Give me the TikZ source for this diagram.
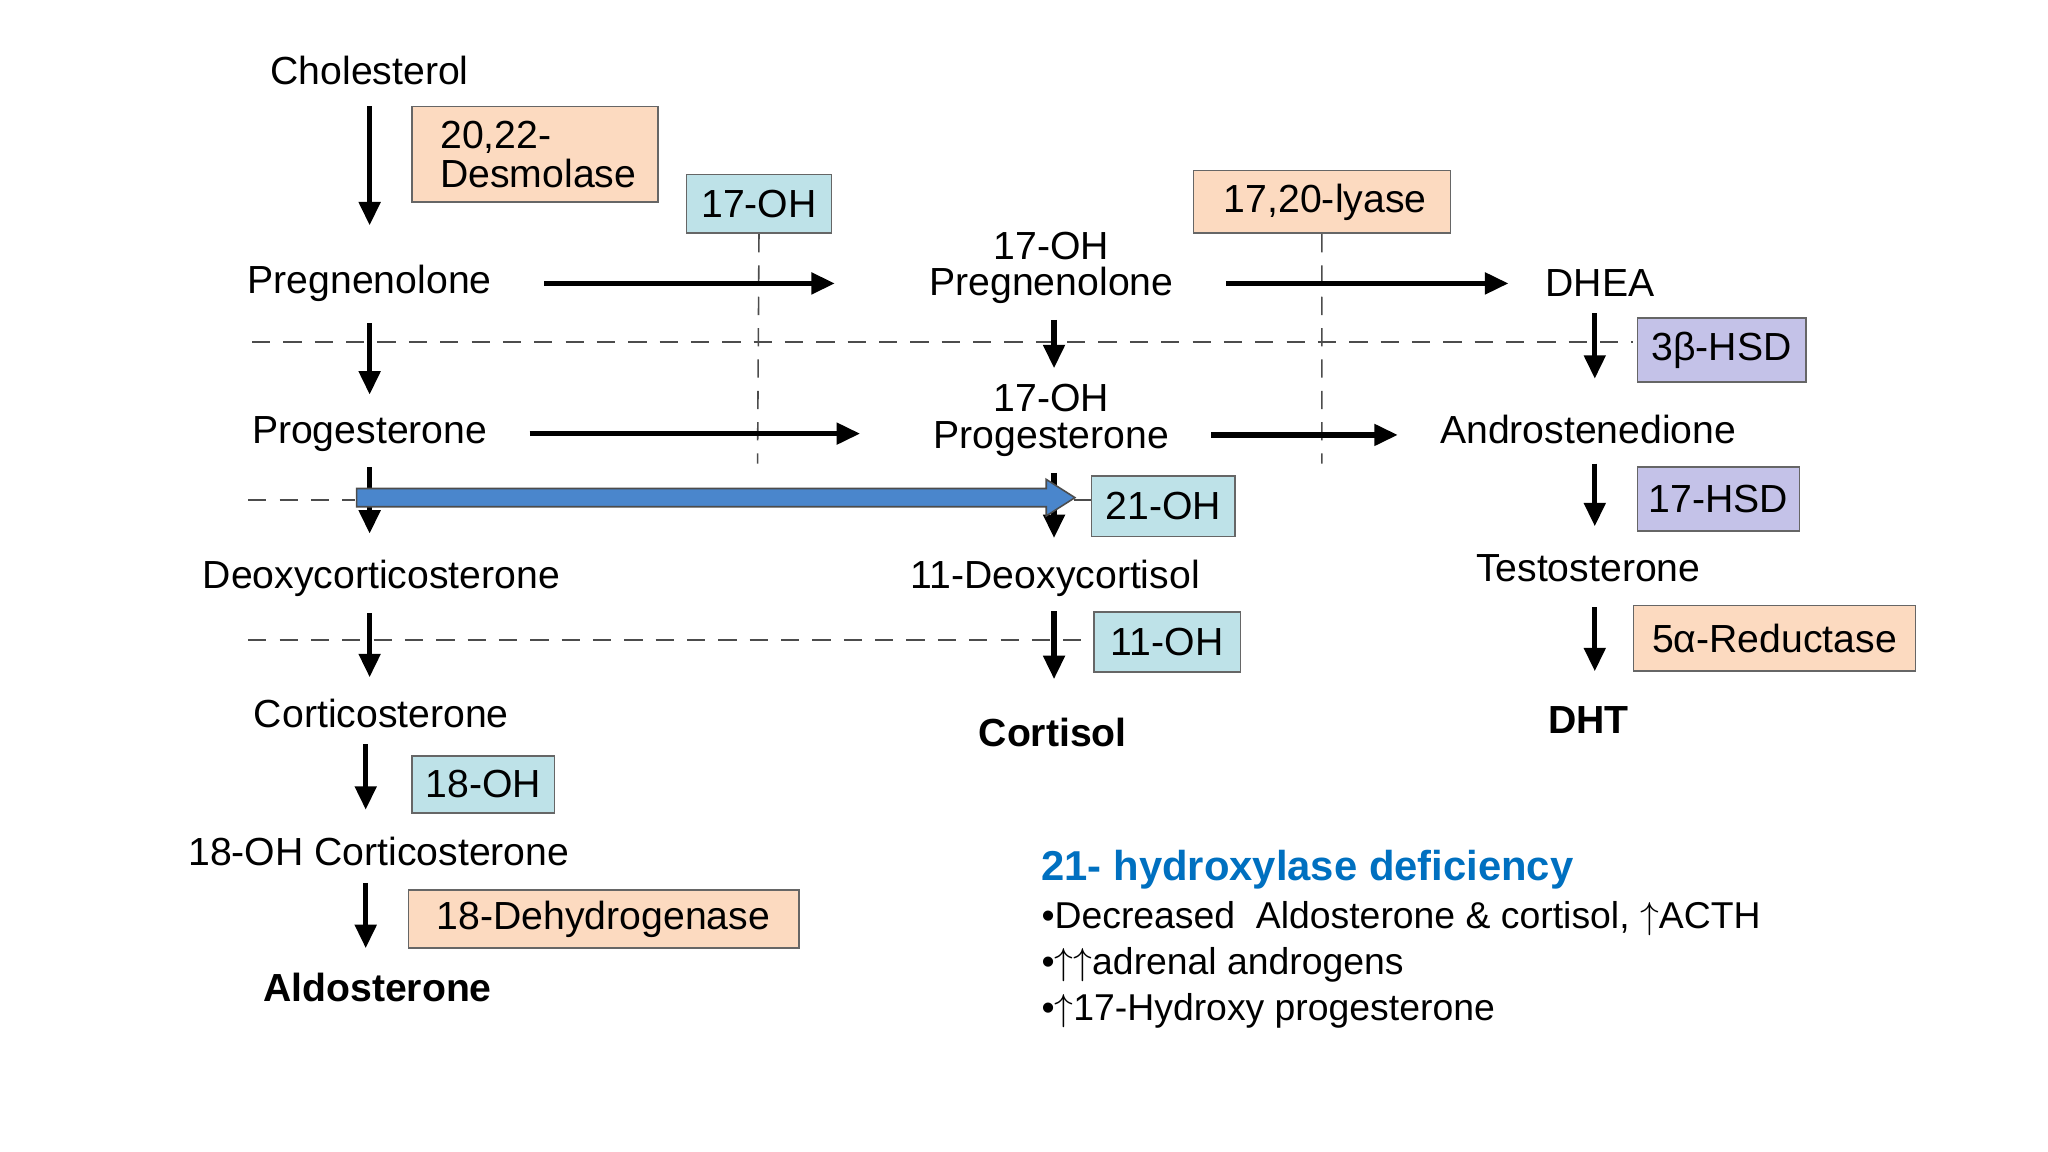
\documentclass[tikz,border=0pt]{standalone}
\usepackage{fontspec}
\setmainfont{Liberation Sans}
\usetikzlibrary{arrows.meta}
\definecolor{orf}{RGB}{252,218,192}
\definecolor{blf}{RGB}{190,226,232}
\definecolor{puf}{RGB}{196,194,232}
\definecolor{ttl}{RGB}{0,112,192}
\definecolor{bar}{RGB}{74,134,204}
\begin{document}
\begin{tikzpicture}[x=0.5pt,y=-0.5pt,
  t/.style={font=\fontsize{15}{16}\selectfont,inner sep=6pt,align=center},
  tb/.style={t,font=\fontsize{15}{16}\selectfont\bfseries},
  bx/.style={draw=black!60,line width=0.6pt,font=\fontsize{15}{15}\selectfont,align=left,inner sep=3pt,anchor=north west},
  ar/.style={line width=2pt,-{Triangle[length=9pt,width=8pt]}},
  dsh/.style={black!70,line width=0.6pt,dash pattern=on 7pt off 5pt}]
\useasboundingbox (0,0) rectangle (1568,882);
% metabolites
\node[t] (chol) at (283,54) {Cholesterol};
\node[t] (preg) at (283,217) {Pregnenolone};
\node[t] (ohpreg) at (805,205) {17-OH\\[-2pt]Pregnenolone};
\node[t] (dhea) at (1225,217) {DHEA};
\node[t] (prog) at (283,332) {Progesterone};
\node[t] (ohprog) at (805,322) {17-OH\\[-2pt]Progesterone};
\node[t] (andro) at (1216,329) {Androstenedione};
\node[t] (doc) at (292,443) {Deoxycorticosterone};
\node[t] (dcort) at (808,443) {11-Deoxycortisol};
\node[t] (testo) at (1216,435) {Testosterone};
\node[t] (cortico) at (292,546) {Corticosterone};
\node[tb] (cortisol) at (806,561) {Cortisol};
\node[tb] (dht) at (1216,551) {DHT};
\node[t] (ohcort) at (290,652) {18-OH Corticosterone};
\node[tb] (aldo) at (289,756) {Aldosterone};
% enzymes
\node[bx,fill=orf,minimum width=94pt,minimum height=36.5pt,font=\fontsize{15}{15}\selectfont] (desm) at (315,81) {\,20,22-\\\,Desmolase};
\node[bx,fill=blf,minimum width=55.5pt,minimum height=22.5pt] (oh17) at (525,133) {17-OH};
\node[bx,fill=orf,minimum width=98.5pt,minimum height=24pt] (lyase) at (913,130) {\,17,20-lyase};
\node[bx,fill=puf,minimum width=64.5pt,minimum height=24.5pt] (hsd3) at (1253,243) {3β-HSD};
\node[bx,fill=blf,minimum width=55pt,minimum height=23pt] (oh21) at (835,364) {21-OH};
\node[bx,fill=puf,minimum width=62pt,minimum height=24.5pt] (hsd17) at (1253,357) {17-HSD};
\node[bx,fill=blf,minimum width=56pt,minimum height=23pt] (oh11) at (837,468) {11-OH};
\node[bx,fill=orf,minimum width=108pt,minimum height=25pt] (red5) at (1250,463) {5α-Reductase};
\node[bx,fill=blf,minimum width=54.5pt,minimum height=22pt] (oh18) at (315,578) {18-OH};
\node[bx,fill=orf,minimum width=149.5pt,minimum height=22pt] (dehyd) at (312,681) {18-Dehydrogenase};
% dashed lines
\coordinate (d1a) at (193,262); \coordinate (d1b) at (1250,262);
\draw[dsh] (d1a) -- (d1b);
\draw[dsh] (oh17.south) -- (580,355);
\draw[dsh] (lyase.south) -- (1012,355);
\coordinate (d2a) at (190,383); \coordinate (d2b) at (272,383);
\draw[dsh] (d2a) -- (d2b);
\draw[dsh] (822,383) -- (oh21.west|-822,383);
\coordinate (d3a) at (190,490);
\draw[dsh] (d3a) -- (oh11.west|-d3a);
% arrows
\draw[ar,shorten <=2pt,shorten >=9pt] (chol) -- (preg);
\draw[ar,shorten <=2pt,shorten >=2pt] (preg) -- (prog);
\draw[ar,shorten >=4pt] (prog) -- (prog|-doc.north);
\draw[ar,shorten >=2pt] (prog|-doc.south) -- (prog|-cortico.north);
\draw[ar] (280,570) -- (280,620);
\draw[ar] (280,676) -- (280,726);
\draw[ar,shorten <=14pt,shorten >=30pt] (preg) -- (ohpreg.west|-preg);
\draw[ar,shorten <=14pt,shorten >=8pt] (ohpreg.east|-preg) -- (dhea);
\draw[ar,shorten <=10pt,shorten >=22pt] (prog) -- (ohprog.west|-prog);
\draw[ar,shorten <=10pt,shorten >=10pt] (ohprog.east|-333,333) -- (andro.west|-333,333);
\draw[ar] (807,245) -- (807,282);
\draw[ar] (807,362) -- (807,412);
\draw[ar] (807,468) -- (807,520);
\draw[ar] (1221,240) -- (1221,290);
\draw[ar] (1221,355) -- (1221,403);
\draw[ar] (1221,465) -- (1221,514);
% blue block arrow
\draw[draw=black!70,fill=bar,line width=0.6pt] (273,374) -- (801,374) -- (801,367) -- (823,381) -- (801,395) -- (801,388) -- (273,388) -- cycle;
% text block
\node[anchor=west,text=ttl,font=\fontsize{16}{18}\selectfont\bfseries,inner sep=0] (title) at (797,666) {21- hydroxylase deficiency};
\node[anchor=west,font=\fontsize{14.3}{16}\selectfont,inner sep=0] (b1) at (797,703) {•Decreased\ \ Aldosterone \& cortisol, $\uparrow$ACTH};
\node[anchor=west,font=\fontsize{14.3}{16}\selectfont,inner sep=0] (b2) at (797,739) {•$\uparrow\uparrow$adrenal androgens};
\node[anchor=west,font=\fontsize{14.3}{16}\selectfont,inner sep=0] (b3) at (797,774) {•$\uparrow$17-Hydroxy progesterone};
\end{tikzpicture}
\end{document}
